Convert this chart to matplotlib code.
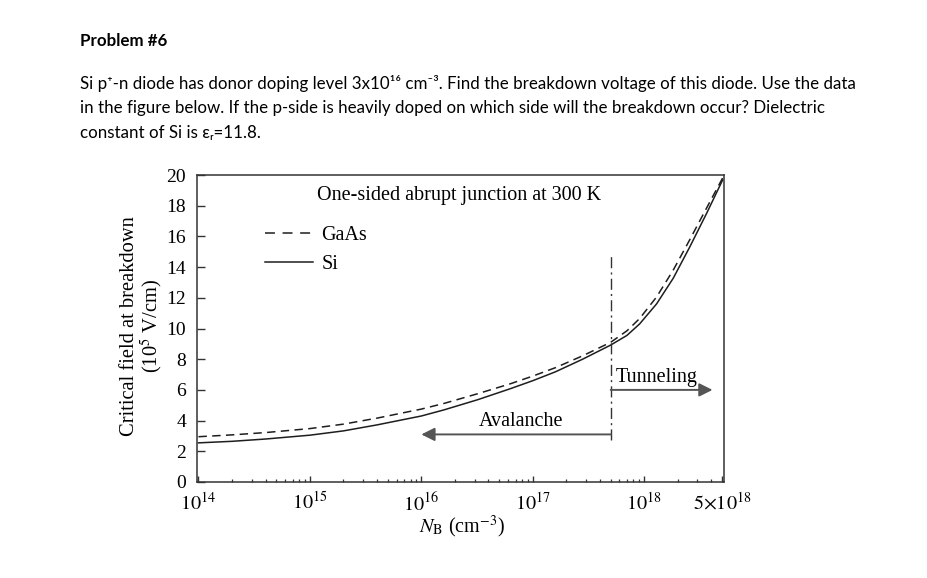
import matplotlib
matplotlib.use('Agg')
import matplotlib.pyplot as plt
from matplotlib.lines import Line2D
from matplotlib.ticker import FixedLocator, LogLocator, NullFormatter, FixedFormatter

plt.rcParams['mathtext.fontset'] = 'stix'
plt.rcParams['font.family'] = ['Liberation Serif', 'DejaVu Serif']

# ---- data ----
N_si = [1e14, 2e14, 4e14, 1e15, 2e15, 4e15, 1e16, 1.6e16, 3.2e16, 6.3e16,
        1e17, 1.6e17, 2.8e17, 5e17, 7e17, 9.1e17, 1.29e18, 1.82e18, 2.57e18,
        3.63e18, 5.05e18]
E_si = [2.55, 2.65, 2.8, 3.05, 3.33, 3.72, 4.3, 4.7, 5.36, 6.08,
        6.6, 7.18, 8.0, 8.92, 9.55, 10.3, 11.6, 13.27, 15.33,
        17.5, 19.67]
N_gaas = [1e14, 2e14, 4e14, 1e15, 2e15, 4e15, 1e16, 1.6e16, 3.2e16, 6.3e16,
          1e17, 1.6e17, 2.8e17, 5e17, 7e17, 9.1e17, 1.29e18, 1.82e18, 2.57e18,
          3.63e18, 5.05e18]
E_gaas = [2.95, 3.07, 3.22, 3.48, 3.77, 4.16, 4.75, 5.12, 5.75, 6.4,
          6.9, 7.45, 8.22, 9.1, 9.85, 10.65, 12.05, 13.8, 15.8,
          17.85, 19.8]

x_ticks = [1e14, 1e15, 1e16, 1e17, 1e18, 5e18]
x_labels = [r'$10^{14}$', r'$10^{15}$', r'$10^{16}$', r'$10^{17}$',
            r'$10^{18}$', r'$5{\times}10^{18}$']
y_ticks = [0, 2, 4, 6, 8, 10, 12, 14, 16, 18, 20]
y_labels = [str(v) for v in y_ticks]

N_boundary = 5e17          # avalanche / tunneling boundary
boundary_E = (2.74, 14.8)  # extent of the dash-dot marker
N_aval_tip = 1e16
E_aval = 3.1
N_tun_tip = 4.1e18
E_tun = 6.0

W, H = 927, 578
fig = plt.figure(figsize=(W / 100, H / 100), dpi=100)
fig.patch.set_facecolor('white')

L, R, T, B = 197, 724, 175, 482
ax = fig.add_axes([L / W, 1 - B / H, (R - L) / W, (B - T) / H])

line_col = '#1e1e1e'
ax.plot(N_si, E_si, color=line_col, lw=1.1)
ax.plot(N_gaas, E_gaas, color=line_col, lw=1.1, dashes=(5.5, 3.5))

ax.set_xscale('log')
ax.set_xlim(9.7e13, 5.2e18)
ax.set_ylim(0, 20)

ax.xaxis.set_major_locator(FixedLocator(x_ticks))
ax.xaxis.set_major_formatter(FixedFormatter(x_labels))
ax.xaxis.set_minor_locator(LogLocator(base=10, subs=range(2, 10), numticks=20))
ax.xaxis.set_minor_formatter(NullFormatter())
ax.yaxis.set_major_locator(FixedLocator(y_ticks))
ax.yaxis.set_major_formatter(FixedFormatter(y_labels))

ax.tick_params(axis='x', which='major', direction='in', length=4.5, width=1,
               labelsize=14.5, pad=7.5, color='#333')
ax.tick_params(axis='x', which='minor', direction='in', length=2.5, width=0.9,
               color='#333')
ax.tick_params(axis='y', which='major', direction='in', length=6, width=1,
               labelsize=14, pad=8, color='#333')
for s in ax.spines.values():
    s.set_color('#333')
    s.set_linewidth(1.1)

# boundary marker
ax.plot([N_boundary, N_boundary], list(boundary_E), color='#333', lw=1.0,
        linestyle=(0, (8, 3, 1.5, 3)))

# arrows
arrow_col = '#555555'
ax.annotate('', xy=(N_aval_tip, E_aval), xytext=(N_boundary, E_aval),
            arrowprops=dict(arrowstyle='-|>', color=arrow_col, lw=1.4,
                            mutation_scale=20, shrinkA=0, shrinkB=0))
ax.annotate('', xy=(N_tun_tip, E_tun), xytext=(N_boundary, E_tun),
            arrowprops=dict(arrowstyle='-|>', color=arrow_col, lw=1.4,
                            mutation_scale=20, shrinkA=0, shrinkB=0))

fs_s = 14.5
ax.text(7.9e16, 3.93, 'Avalanche', fontsize=fs_s, ha='center', va='center')
ax.text(5.5e17, 6.8, 'Tunneling', fontsize=fs_s, ha='left', va='center')
ax.text(0.497, 0.932, 'One-sided abrupt junction at 300 K', fontsize=fs_s,
        ha='center', va='center', transform=ax.transAxes)

handles = [Line2D([], [], color=line_col, lw=1.1, dashes=(6.5, 5)),
           Line2D([], [], color=line_col, lw=1.1)]
ax.legend(handles, ['GaAs', 'Si'], loc='upper left',
          bbox_to_anchor=((265 - L) / (R - L), (B - 226) / (B - T)),
          frameon=False, fontsize=fs_s, handlelength=2.4, handletextpad=0.4,
          labelspacing=0.5, borderpad=0, borderaxespad=0)

fig.text(142 / W, 1 - 326 / H, 'Critical field at breakdown\n(10$^5$ V/cm)',
         rotation=90, fontsize=14.8, ha='center', va='center',
         multialignment='center', linespacing=0.95)
fig.text(462 / W, 1 - 527 / H, r'$N_\mathrm{B}$ (cm$^{-3}$)', fontsize=fs_s,
         ha='center', va='center')

# ---- problem text ----
sans = ['Lato', 'DejaVu Sans']
lines = ['Si p\u207a-n diode has donor doping level 3x10\u00b9\u2076 cm\u207b\u00b3. '
         'Find the breakdown voltage of this diode. Use the data',
         'in the figure below. If the p-side is heavily doped on which side '
         'will the breakdown occur? Dielectric',
         'constant of Si is \u03b5\u1d63=11.8.']
ys = [83, 108, 133]
fig.canvas.draw()
r = fig.canvas.get_renderer()
t1 = fig.text(80 / W, 1 - ys[0] / H, lines[0], family=sans, fontsize=12,
              ha='left', va='center')
w = t1.get_window_extent(r).width
fs = 12 * 772 / w
t1.set_fontsize(fs)
for txt, y in zip(lines[1:], ys[1:]):
    fig.text(80 / W, 1 - y / H, txt, family=sans, fontsize=fs, ha='left',
             va='center')
fig.text(80 / W, 1 - 41 / H, 'Problem #6', family=sans, fontsize=fs,
         weight='bold', ha='left', va='center')

fig.savefig('out.png', dpi=100, facecolor='white')
